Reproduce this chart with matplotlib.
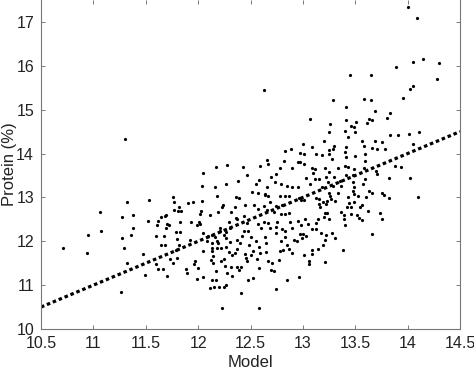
import matplotlib.pyplot as plt
import numpy as np

plt.rcParams["font.family"] = ["Liberation Sans", "DejaVu Sans"]

model = [
    10.71, 10.94, 11.29, 11.32, 11.47, 11.49, 11.26, 11.60, 11.62,
    11.30, 11.32, 11.53, 11.06, 11.27, 11.38, 10.95, 11.07, 11.27, 11.36, 11.38,
    11.52, 11.76, 11.77, 11.77, 11.81, 11.65, 11.69, 11.62, 11.70, 11.72, 11.69,
    11.83, 11.60, 11.67, 11.79, 11.65, 11.68, 11.80, 11.82, 11.76, 11.80, 11.66, 11.70,
    12.63, 12.83, 12.89, 12.66, 12.67, 12.82, 12.05, 12.17, 12.28, 12.43, 12.59,
    12.78, 12.90, 12.47, 12.38, 12.04, 12.16, 12.27, 12.55, 12.58, 12.70, 12.74,
    12.73, 12.66, 12.79, 12.85, 12.90, 12.51, 12.57, 12.64,
    13.89, 14.05, 14.30, 13.45, 13.65, 14.28, 14.05, 14.02, 13.96, 13.29, 13.58,
    13.65, 13.41, 13.69, 13.83, 13.80, 13.07, 13.41, 13.51, 13.63, 13.66, 13.61,
    13.26, 13.46, 13.49, 13.40, 13.50, 13.25, 13.43, 13.56, 13.69, 13.76, 13.83,
    13.91, 14.01, 14.11, 14.05, 13.20, 13.00, 13.09, 13.25, 13.29, 13.30, 13.41,
    13.58, 13.66, 13.71, 13.78, 12.97, 13.01, 13.13, 13.18, 13.25, 13.28, 13.40,
    13.41, 13.50, 13.59, 13.59, 12.95, 12.97, 13.01, 13.09, 13.12, 13.21, 13.34,
    13.40, 13.43, 13.49, 13.58, 13.88, 13.94, 13.10, 13.25, 13.41, 13.48, 13.70,
    13.71, 13.82, 14.02, 13.03, 13.12, 13.15, 13.22, 13.30, 13.24, 13.35, 13.48,
    13.59, 13.57, 12.95, 13.07, 13.18, 13.29, 13.36, 13.49, 13.63, 13.48, 13.25, 13.76,
    14.00, 14.09, 14.15,
    11.90, 11.95, 12.04, 12.18, 12.36, 12.39, 12.64, 12.67, 12.78, 12.83, 12.87,
    11.82, 11.84, 11.68, 11.61, 11.83, 11.93, 12.01, 11.99, 12.02, 12.02, 12.03,
    12.11, 12.19, 12.24, 12.23, 12.31, 12.35, 12.45, 12.53, 12.57, 12.63, 12.69,
    12.74, 12.80, 12.83, 12.79, 12.87, 12.66, 12.72, 12.36, 12.37, 12.44, 12.47,
    12.29, 12.57, 12.63, 12.67, 12.75, 12.88, 12.60, 12.69, 12.74, 12.80, 12.83,
    12.90, 11.79, 11.73, 11.88, 11.89, 11.97, 11.96, 12.00, 11.99, 12.05, 12.05,
    12.13, 12.14, 12.12, 12.14, 12.17, 12.13, 12.17, 12.11, 12.15, 12.20, 12.25,
    12.27, 12.23, 12.58, 12.41, 12.74, 12.18, 12.19, 12.18, 12.22, 12.13, 12.13,
    12.09, 12.13, 12.16, 12.25, 12.27, 12.27, 12.30, 12.21, 12.21, 12.30, 12.27,
    12.29, 12.32, 12.35, 12.37, 12.40, 12.37, 12.42, 12.44, 12.48, 12.50, 12.49,
    12.52, 12.50, 12.45, 12.46, 12.47, 12.37, 12.41, 12.39, 12.31, 12.28, 12.32,
    12.26, 12.22, 12.25, 12.48, 12.52, 12.58, 12.56, 12.59, 12.58, 12.55, 12.64,
    12.65, 12.65, 12.67, 12.71, 12.70, 12.72, 12.77, 12.78, 12.81, 12.79, 12.85,
    12.87, 12.90, 12.85, 12.74, 12.83, 12.92, 12.08, 12.05, 11.92,
    14.10, 13.82, 13.77, 13.66, 13.62, 13.74, 13.76, 13.66, 13.60, 13.53, 13.49,
    13.56, 13.55, 13.52, 13.54, 13.56, 13.46, 13.44, 13.46, 13.42, 13.43, 13.49,
    13.39, 13.39, 13.40, 13.36, 13.38, 13.31, 13.28, 13.22, 13.21, 13.19, 13.21,
    13.17, 13.14, 13.09, 13.09, 13.06, 13.06, 13.01, 12.96, 13.13, 13.09, 13.13,
    13.14, 13.20, 13.21, 13.23, 13.25, 13.22, 13.16, 13.15, 13.15, 13.19, 13.23,
    13.27, 13.26, 13.31, 13.34, 13.13, 13.02, 13.05, 12.98, 12.95, 12.97, 13.00,
    13.03, 12.94, 12.99, 13.01, 12.98, 12.96,
]
protein = [
    11.85, 11.73, 11.85, 11.50, 11.72, 11.24, 10.85, 11.48, 11.37,
    14.32, 12.90, 12.93, 12.66, 12.56, 12.60, 12.14, 12.23, 12.07, 12.14, 12.30,
    12.47, 13.00, 12.89, 12.71, 12.68, 12.56, 12.59, 12.47, 12.39, 12.38, 12.30,
    12.43, 12.11, 12.12, 12.20, 11.92, 11.91, 12.06, 11.91, 11.51, 11.62, 11.36, 11.20,
    15.45, 14.06, 14.10, 13.85, 13.77, 13.82, 13.56, 13.69, 13.73, 13.69, 13.71,
    13.67, 13.68, 13.50, 13.37, 13.26, 13.24, 13.30, 13.30, 13.39, 13.46, 13.53,
    13.34, 13.24, 13.31, 13.26, 13.23, 13.12, 13.11, 13.08,
    15.98, 16.08, 16.07, 15.78, 15.78, 15.70, 15.55, 15.47, 15.26, 15.21, 15.24,
    15.21, 15.05, 14.97, 14.93, 14.82, 14.78, 14.77, 14.73, 14.78, 14.76, 14.70,
    14.67, 14.62, 14.61, 14.51, 14.48, 14.48, 14.37, 14.29, 14.29, 14.26, 14.43,
    14.43, 14.45, 14.48, 14.22, 14.29, 14.22, 14.14, 14.08, 14.11, 14.17, 14.14,
    14.18, 14.13, 14.10, 14.10, 14.01, 13.98, 13.98, 13.97, 14.00, 13.88, 14.03,
    13.93, 13.95, 14.00, 13.82, 13.80, 13.81, 13.77, 13.66, 13.65, 13.66, 13.67,
    13.72, 13.69, 13.64, 13.66, 13.72, 13.69, 13.56, 13.59, 13.52, 13.51, 13.60,
    13.53, 13.45, 13.44, 13.45, 13.41, 13.43, 13.47, 13.47, 13.34, 13.37, 13.36,
    13.42, 13.30, 13.24, 13.31, 13.24, 13.27, 13.26, 13.24, 13.15, 13.15, 13.11, 13.10,
    17.35, 17.10, 16.16,
    12.88, 12.89, 12.91, 13.03, 13.01, 12.98, 13.06, 13.03, 13.03, 13.03, 13.04,
    12.79, 12.70, 12.58, 12.36, 12.21, 12.44, 12.44, 12.36, 12.39, 12.63, 12.70,
    12.61, 12.67, 12.82, 12.78, 12.67, 12.79, 12.83, 12.83, 12.73, 12.80, 12.90,
    12.80, 12.83, 12.62, 12.62, 12.64, 12.71, 12.66, 12.54, 12.51, 12.57, 12.42,
    12.43, 12.40, 12.43, 12.42, 12.43, 12.43, 12.30, 12.30, 12.33, 12.28, 12.24,
    12.30, 11.81, 11.59, 11.36, 11.27, 11.56, 11.48, 11.38, 11.13, 11.78, 11.19,
    11.78, 11.66, 11.57, 11.51, 11.32, 11.12, 11.12, 10.93, 10.95, 10.96, 10.96,
    11.01, 10.48, 10.48, 10.81, 10.91, 12.01, 11.95, 11.85, 11.84, 11.84, 11.96,
    12.11, 12.14, 12.10, 12.15, 12.07, 12.21, 12.31, 12.31, 12.23, 11.99, 11.88,
    11.76, 11.69, 11.74, 11.82, 11.95, 12.02, 12.13, 12.23, 12.24, 12.10, 11.92,
    11.78, 11.69, 11.71, 11.61, 11.54, 11.42, 11.42, 11.34, 11.42, 11.28, 11.21,
    11.44, 11.55, 11.60, 11.12, 11.16, 11.40, 11.60, 11.73, 11.88, 12.00, 12.09,
    11.95, 11.76, 11.55, 11.51, 11.35, 11.32, 11.58, 11.78, 11.80, 12.01, 11.92,
    11.82, 11.73, 11.12, 12.18, 12.10, 12.03, 12.01, 12.18, 12.04,
    13.02, 12.98, 13.06, 13.10, 12.70, 12.64, 12.51, 12.16, 13.00, 13.03, 13.08,
    12.82, 12.78, 12.59, 12.52, 12.49, 12.63, 12.87, 12.77, 12.77, 13.00, 12.89,
    12.61, 12.50, 12.38, 12.66, 11.79, 12.07, 12.18, 12.14, 12.03, 11.92, 11.53,
    12.18, 11.83, 11.79, 11.71, 11.56, 11.48, 11.69, 11.19, 12.27, 12.27, 12.42,
    12.50, 12.55, 12.65, 12.65, 12.51, 12.85, 12.77, 12.85, 12.96, 12.90, 12.92,
    12.96, 13.03, 12.91, 13.09, 12.98, 12.50, 12.39, 12.37, 12.46, 12.16, 12.16,
    12.13, 12.01, 12.08, 12.94, 12.94, 12.98,
]

# 1:1 line
line_x = [10.5, 14.5]
line_y = [10.5, 14.5]

x_ticks = [10.5, 11, 11.5, 12, 12.5, 13, 13.5, 14, 14.5]
y_ticks = [10, 11, 12, 13, 14, 15, 16, 17]

fig = plt.figure(figsize=(4.74, 3.70), dpi=100)
ax = fig.add_axes([41 / 474, 1 - 329 / 370, 419 / 474, 329 / 370])

ax.plot(model, protein, "o", color="k", markersize=2.3, markeredgewidth=0)
ax.plot(line_x, line_y, color="k", linewidth=2.3, dashes=(1.1, 0.9))

ax.set_xlim(10.5, 14.5)
ax.set_ylim(10, 17.5)
ax.set_xticks(x_ticks)
ax.set_xticklabels([f"{t:g}" for t in x_ticks])
ax.set_yticks(y_ticks)

ax.spines["top"].set_visible(False)
for s in ["left", "right", "bottom"]:
    ax.spines[s].set_color("#777777")
    ax.spines[s].set_linewidth(0.8)
ax.tick_params(direction="in", length=3, width=0.7, color="#777777",
               top=True, right=True, labelsize=11.5, labelcolor="#222222", pad=5)

ax.set_xlabel("Model", fontsize=12, color="#222222", labelpad=3)
ax.set_ylabel("Protein (%)", fontsize=12, color="#222222")
ax.yaxis.set_label_coords(-0.058, 0.5)

fig.savefig("out.png", dpi=100)
